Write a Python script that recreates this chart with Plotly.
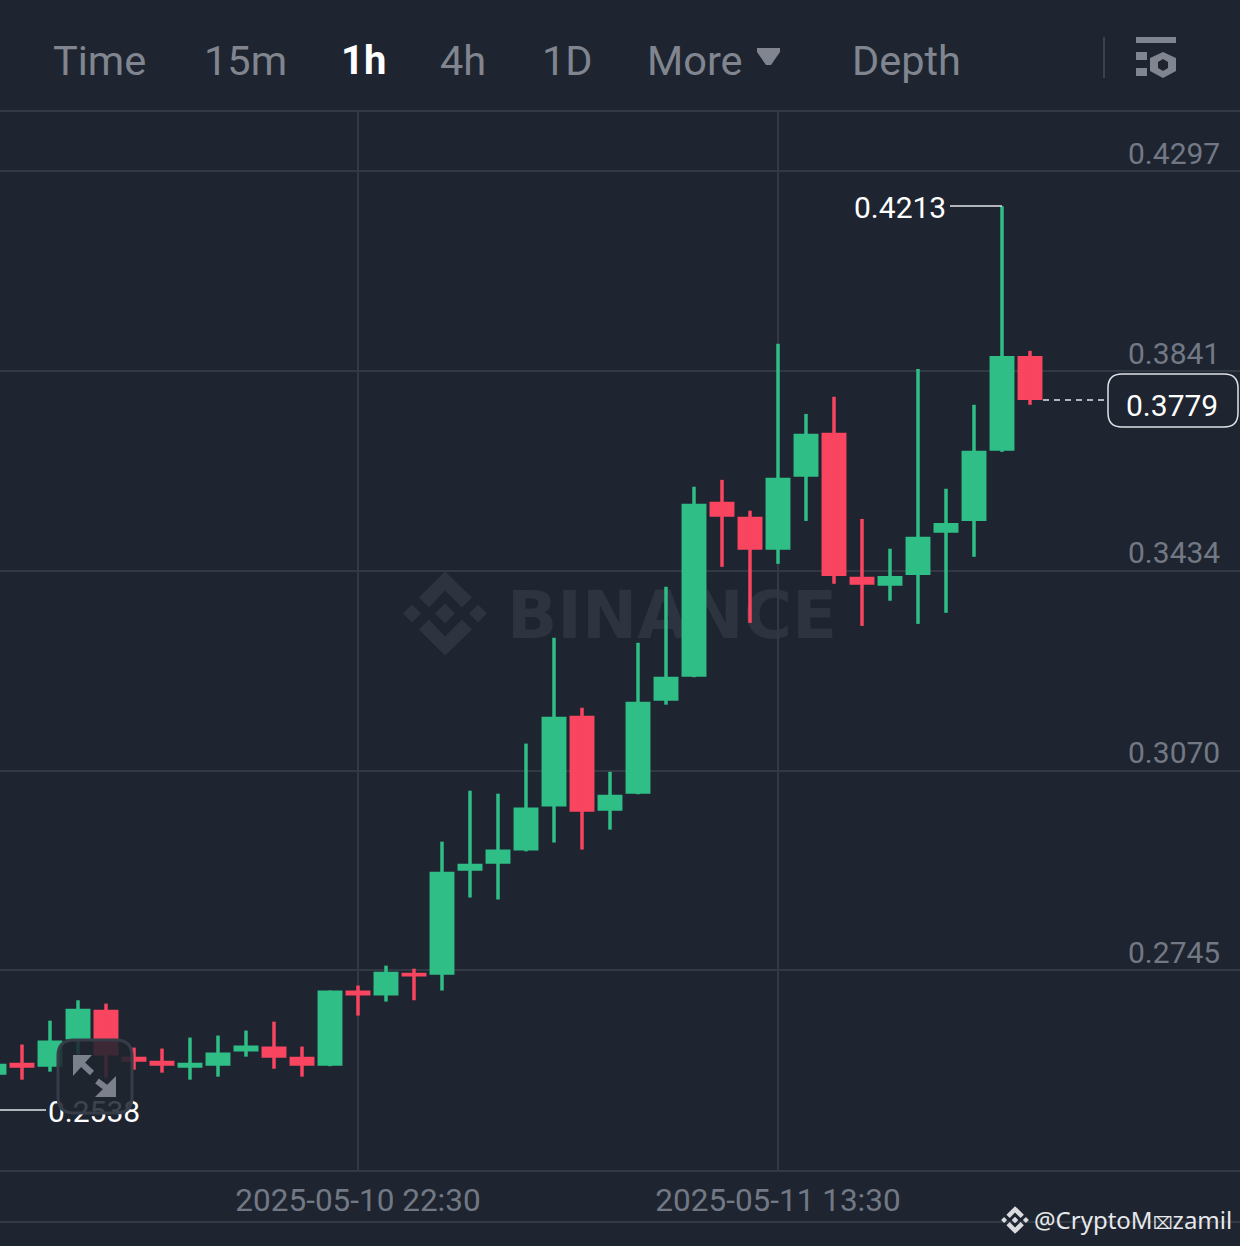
import math
import plotly.graph_objects as go

W, H = 1240, 1246
BG = "#1e2530"
GRID = "#333944"
GREEN = "#2fbe86"
RED = "#f9455f"
MUTED = "#727985"
TAB = "#81858f"

# hourly candles
times = [
    "2025-05-10 09:30", "2025-05-10 10:30", "2025-05-10 11:30", "2025-05-10 12:30",
    "2025-05-10 13:30", "2025-05-10 14:30", "2025-05-10 15:30", "2025-05-10 16:30",
    "2025-05-10 17:30", "2025-05-10 18:30", "2025-05-10 19:30", "2025-05-10 20:30",
    "2025-05-10 21:30", "2025-05-10 22:30", "2025-05-10 23:30", "2025-05-11 00:30",
    "2025-05-11 01:30", "2025-05-11 02:30", "2025-05-11 03:30", "2025-05-11 04:30",
    "2025-05-11 05:30", "2025-05-11 06:30", "2025-05-11 07:30", "2025-05-11 08:30",
    "2025-05-11 09:30", "2025-05-11 10:30", "2025-05-11 11:30", "2025-05-11 12:30",
    "2025-05-11 13:30", "2025-05-11 14:30", "2025-05-11 15:30", "2025-05-11 16:30",
    "2025-05-11 17:30", "2025-05-11 18:30", "2025-05-11 19:30", "2025-05-11 20:30",
    "2025-05-11 21:30", "2025-05-11 22:30",
]
opens = [
    0.25887, 0.26061, 0.26002, 0.26402, 0.26848, 0.26150, 0.26091, 0.25987,
    0.26017, 0.26224, 0.26298, 0.26150, 0.26017, 0.27137, 0.27061, 0.27411,
    0.27380, 0.29023, 0.29139, 0.29353, 0.30086, 0.31658, 0.30018, 0.30305,
    0.31928, 0.32358, 0.35697, 0.35397, 0.34747, 0.36197, 0.37102, 0.34223,
    0.34052, 0.34261, 0.35079, 0.35313, 0.36729, 0.38738,
]
highs = [
    0.26106, 0.26328, 0.26683, 0.26990, 0.26939, 0.26283, 0.26269, 0.26431,
    0.26461, 0.26535, 0.26668, 0.26298, 0.27137, 0.27213, 0.27519, 0.27472,
    0.29501, 0.30356, 0.30305, 0.31168, 0.33073, 0.31801, 0.30679, 0.32981,
    0.34033, 0.35997, 0.36137, 0.35517, 0.39002, 0.37497, 0.37860, 0.35353,
    0.34767, 0.38455, 0.35957, 0.37690, 0.42130, 0.38847,
]
lows = [
    0.25843, 0.25814, 0.25930, 0.26180, 0.25843, 0.25959, 0.25916, 0.25814,
    0.25858, 0.26150, 0.25973, 0.25858, 0.26010, 0.26759, 0.26970, 0.26990,
    0.27137, 0.28591, 0.28559, 0.29340, 0.29485, 0.29370, 0.29700, 0.30295,
    0.31856, 0.32350, 0.34416, 0.33351, 0.34474, 0.35313, 0.34090, 0.33295,
    0.33768, 0.33332, 0.33540, 0.34610, 0.36708, 0.37690,
]
closes = [
    0.26047, 0.25987, 0.26387, 0.26863, 0.26165, 0.26076, 0.26017, 0.26061,
    0.26209, 0.26313, 0.26135, 0.26017, 0.27137, 0.27061, 0.27426, 0.27350,
    0.29007, 0.29139, 0.29370, 0.30069, 0.31640, 0.30001, 0.30288, 0.31910,
    0.32358, 0.35657, 0.35397, 0.34747, 0.36177, 0.37081, 0.34242, 0.34071,
    0.34242, 0.35001, 0.35274, 0.36729, 0.38738, 0.37790,
]

price_ticks = [0.4297, 0.3841, 0.3434, 0.3070, 0.2745]
price_labels = ["0.4297", "0.3841", "0.3434", "0.3070", "0.2745"]
time_ticks = ["2025-05-10 22:30", "2025-05-11 13:30"]
time_labels = ["2025-05-10 22:30", "2025-05-11 13:30"]
tabs = ["Time", "15m", "1h", "4h", "1D", "More", "Depth"]
tab_left = [53, 204, 341, 440, 542, 647, 852]


def px(x):
    return x / W


def py(y):
    return 1 - y / H


def poly(points):
    return "M " + " L ".join(f"{px(x):.5f},{py(y):.5f}" for x, y in points) + " Z"


def round_rect(x0, y0, x1, y1, r):
    return (
        f"M {px(x0 + r):.5f},{py(y0):.5f} L {px(x1 - r):.5f},{py(y0):.5f} "
        f"Q {px(x1):.5f},{py(y0):.5f} {px(x1):.5f},{py(y0 + r):.5f} "
        f"L {px(x1):.5f},{py(y1 - r):.5f} "
        f"Q {px(x1):.5f},{py(y1):.5f} {px(x1 - r):.5f},{py(y1):.5f} "
        f"L {px(x0 + r):.5f},{py(y1):.5f} "
        f"Q {px(x0):.5f},{py(y1):.5f} {px(x0):.5f},{py(y1 - r):.5f} "
        f"L {px(x0):.5f},{py(y0 + r):.5f} "
        f"Q {px(x0):.5f},{py(y0):.5f} {px(x0 + r):.5f},{py(y0):.5f} Z"
    )


def logo(cx, cy, s):
    # binance mark, s=1 is the big watermark
    def pts(lst):
        return poly([(cx + a * s, cy + b * s) for a, b in lst])
    parts = [
        pts([(0, -42), (27, -16), (17, -6), (0, -23), (-16, -6), (-26, -16)]),
        pts([(0, 42), (27, 16), (17, 6), (0, 23), (-16, 6), (-26, 16)]),
        pts([(0, -10), (10, 0), (0, 10), (-10, 0)]),
        pts([(-33, -9), (-24, 0), (-33, 9), (-42, 0)]),
        pts([(33, -9), (42, 0), (33, 9), (24, 0)]),
    ]
    return " ".join(parts)


def paper_shape(path, color, layer="above", line=None, width=0):
    return dict(type="path", path=path, xref="paper", yref="paper", layer=layer,
                fillcolor=color, line=dict(color=line or color, width=width))


def hline(x0, x1, y, color, width=1.5, dash="solid", layer="above"):
    return dict(type="line", xref="paper", yref="paper", x0=px(x0), x1=px(x1), y0=py(y), y1=py(y),
                layer=layer, line=dict(color=color, width=width, dash=dash))


def seg(x0, y0, x1, y1, color, width):
    return dict(type="line", xref="paper", yref="paper", x0=px(x0), x1=px(x1), y0=py(y0), y1=py(y1),
                line=dict(color=color, width=width))


def text(x, y, s, size=30, color="#ffffff", anchor="left", family="Roboto"):
    return dict(xref="paper", yref="paper", x=px(x), y=py(y), text=s, showarrow=False,
                xanchor=anchor, yanchor="middle", borderpad=0, borderwidth=0,
                font=dict(family=family, size=size, color=color))


# wicks are separate so that body height stays the real open/close distance
def wick_series(up):
    xs, ys = [], []
    for t, o, h, l, c in zip(times, opens, highs, lows, closes):
        if (c >= o) == up:
            xs += [t, t, None]
            ys += [l, h, None]
    return xs, ys


fig = go.Figure()

for up, color in [(True, GREEN), (False, RED)]:
    wx, wy = wick_series(up)
    fig.add_trace(go.Scatter(x=wx, y=wy, mode="lines", line=dict(color=color, width=3.5),
                             hoverinfo="skip", showlegend=False))

fig.add_trace(go.Candlestick(
    x=times, open=opens, high=highs, low=lows, close=closes,
    increasing=dict(fillcolor=GREEN, line=dict(color=GREEN, width=0)),
    decreasing=dict(fillcolor=RED, line=dict(color=RED, width=0)),
    whiskerwidth=0, showlegend=False, hoverinfo="skip",
))

shapes = [
    # chart frame
    hline(0, W, 111, GRID, 2, layer="below"),
    hline(0, W, 1222, GRID, 2, layer="below"),
    # watermark
    paper_shape(logo(445, 613.5, 1), "#2d333f", layer="below"),
    dict(type="rect", xref="paper", yref="paper", x0=px(480), x1=px(864), y0=py(637), y1=py(583),
         layer="below", line=dict(width=0), fillcolor="rgba(0,0,0,0)",
         label=dict(text="BINANCE", textposition="middle center",
                    font=dict(family="DejaVu Sans", size=66, color="#2d333f", weight=700))),
    # low callout, sits under the fullscreen button
    hline(0, 46, 1110, "#e4e6ea", 1.5),
    dict(type="rect", xref="paper", yref="paper", x0=px(40), x1=px(148), y0=py(1129.5), y1=py(1089.5),
         layer="below", line=dict(width=0), fillcolor="rgba(0,0,0,0)",
         label=dict(text="0.2538", textposition="middle center",
                    font=dict(family="Roboto", size=30, color="#ffffff"))),
    # high callout
    hline(950, 1002, 206, "#e4e6ea", 1.5),
    # last price
    hline(1043, 1107, 400, "#e4e6ea", 1.5, dash="6px,5px"),
    paper_shape(round_rect(1108, 374, 1238, 427, 14), BG, line="#dfe1e5", width=1.5),
    # more arrow
    paper_shape(poly([(757, 48), (780, 48), (780, 52), (771, 65), (766, 65), (757, 52)]), TAB),
    # separator and settings icon
    seg(1104, 37, 1104, 78, "#3a404c", 2),
    paper_shape(poly([(1136, 37), (1176, 37), (1176, 43), (1136, 43)]), TAB),
    paper_shape(poly([(1136, 52), (1147, 52), (1147, 60), (1136, 60)]), TAB),
    paper_shape(poly([(1136, 68), (1147, 68), (1147, 76), (1136, 76)]), TAB),
    paper_shape(poly([(1163, 52), (1176, 58), (1176, 71), (1163, 78), (1150, 71), (1150, 58)]), TAB),
    paper_shape(poly([(1163, 59), (1168, 62), (1168, 68), (1163, 71), (1158, 68), (1158, 62)]), BG),
    # fullscreen button over the candles
    paper_shape(round_rect(58, 1040, 132, 1113, 16), "rgba(30,37,48,0.86)", line="#363c48", width=3),
    paper_shape(poly([(73, 1055), (92, 1055), (73, 1076)]), "#7b808c"),
    paper_shape(poly([(116, 1076), (116, 1097), (95, 1097)]), "#7b808c"),
    seg(80, 1062, 92, 1073, "#7b808c", 6),
    seg(97, 1081, 109, 1090, "#7b808c", 6),
    # signature
    paper_shape(logo(1015, 1220, 0.33), "#d9dbdf"),
]

annotations = []
for left, name in zip(tab_left, tabs):
    active = name == "1h"
    annotations.append(text(left, 60.5, f"<b>{name}</b>" if active else name, size=40 if active else 41.5,
                            color="#ffffff" if active else TAB))

for v, label in zip(price_ticks, price_labels):
    annotations.append(dict(xref="paper", yref="y", x=px(1126), y=math.log10(v), yshift=18,
                            text=label, showarrow=False, xanchor="left", yanchor="middle",
                            font=dict(family="Roboto", size=30, color=MUTED)))

annotations += [
    text(946, 207, "0.4213", anchor="right"),
    text(1126, 405, "0.3779"),
    text(1232, 1219, '@CryptoM<span style="font-size:17px">⌧</span>zamil', size=24, color="#e6e8eb",
         anchor="right", family="Noto Sans"),
]

fig.update_layout(
    width=W, height=H,
    margin=dict(l=0, r=0, t=0, b=0),
    paper_bgcolor=BG, plot_bgcolor=BG,
    showlegend=False,
    boxgap=0.11, boxgroupgap=0,
    shapes=shapes, annotations=annotations,
    xaxis=dict(
        type="date", range=["2025-05-10 09:42:51", "2025-05-12 06:00"], domain=[0, 1],
        rangeslider=dict(visible=False),
        tickmode="array", tickvals=time_ticks, ticktext=time_labels,
        tickfont=dict(family="Roboto", size=31.5, color=MUTED),
        ticks="", ticklabelstandoff=1,
        showgrid=True, gridcolor=GRID, gridwidth=2,
        showline=True, linecolor=GRID, linewidth=2, zeroline=False,
    ),
    yaxis=dict(
        type="log", range=[-0.61014, -0.35222], domain=[1 - 1170 / H, 1 - 111 / H],
        tickmode="array", tickvals=price_ticks, showticklabels=False,
        showgrid=True, gridcolor=GRID, gridwidth=2, zeroline=False,
    ),
)

fig.write_html("out.html", config={"displayModeBar": False},
               post_script="document.body.style.margin='0';document.body.style.overflow='hidden';")
